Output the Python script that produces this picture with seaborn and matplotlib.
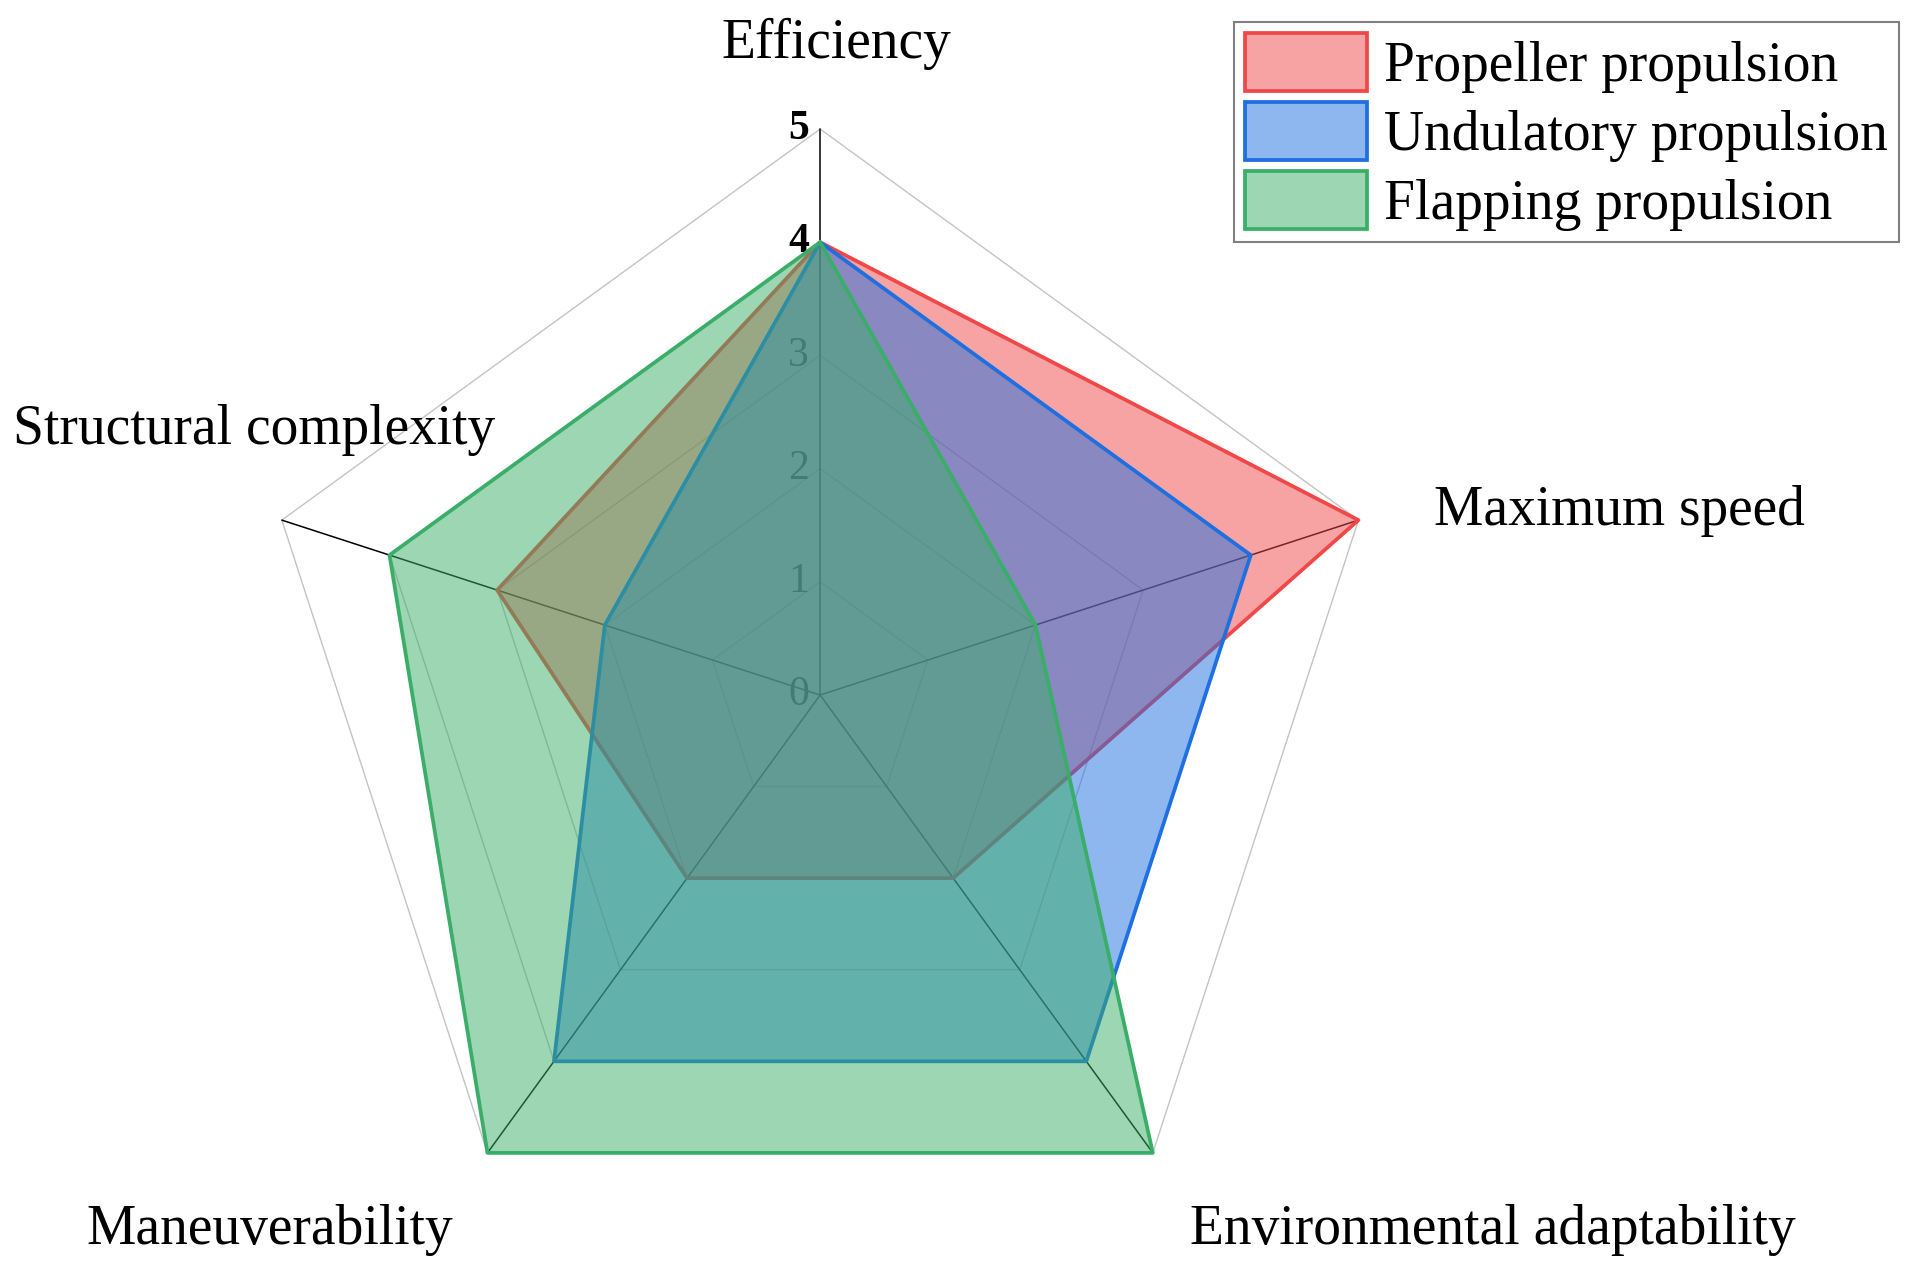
import numpy as np
import matplotlib
matplotlib.use('Agg')
import matplotlib.pyplot as plt
import seaborn as sns
from matplotlib.patches import Patch
from matplotlib.colors import to_rgba

# Scores (scale 0-5)
categories = ['Efficiency', 'Maximum speed', 'Environmental adaptability',
              'Maneuverability', 'Structural complexity']
propeller = [4, 5, 2, 2, 3]
undulatory = [4, 4, 4, 4, 2]
flapping = [4, 2, 5, 5, 4]
series_names = ['Propeller propulsion', 'Undulatory propulsion', 'Flapping propulsion']
levels = [0, 1, 2, 3, 4, 5]

sns.set_theme(style='white')
plt.rcParams['font.family'] = ['Liberation Serif', 'DejaVu Serif']
plt.rcParams['text.color'] = 'black'

colors = ['#F04848', '#1E6FE0', '#3AAE68']

fig = plt.figure(figsize=(19.14, 12.68), dpi=100)
ax = fig.add_axes([0, 0, 1, 1])
ax.set_xlim(-7.245, 9.663)
ax.set_ylim(-5.062, 6.140)
ax.axis('off')

# Efficiency on top, then clockwise
angles = np.deg2rad(90 - 72 * np.arange(len(categories)))


def to_xy(vals):
    r = np.asarray(vals, dtype=float)
    x = r * np.cos(angles)
    y = r * np.sin(angles)
    return np.append(x, x[0]), np.append(y, y[0])


# pentagon grid
for lv in levels[1:]:
    gx, gy = to_xy([lv] * len(categories))
    ax.plot(gx, gy, color='#c4c4c4', lw=1.0, zorder=1)

# spokes
rmax = levels[-1]
for a in angles:
    ax.plot([0, rmax * np.cos(a)], [0, rmax * np.sin(a)], color='black', lw=1.1, zorder=1)

# radial tick labels along the Efficiency axis
for lv in levels:
    ax.text(-0.1, lv, str(lv), ha='right', va='center', fontsize=30, color='black',
            fontweight='bold' if lv >= 4 else 'normal', zorder=1.5)

# filled polygons
for i, (vals, col) in enumerate(zip([propeller, undulatory, flapping], colors)):
    px, py = to_xy(vals)
    ax.fill(px, py, facecolor=col, alpha=0.5, edgecolor='none', zorder=2 + i)
    ax.plot(px, py, color=col, lw=2.7, zorder=2.1 + i)

# axis labels
fig.text(0.437, 0.965, categories[0], ha='center', va='center', fontsize=40)
fig.text(0.749, 0.597, categories[1], ha='left', va='center', fontsize=40)
fig.text(0.780, 0.030, categories[2], ha='center', va='center', fontsize=40)
fig.text(0.141, 0.030, categories[3], ha='center', va='center', fontsize=40)
fig.text(0.133, 0.661, categories[4], ha='center', va='center', fontsize=40)

handles = [Patch(facecolor=to_rgba(c, 0.5), edgecolor=c, lw=2.7, label=n)
           for c, n in zip(colors, series_names)]
leg = ax.legend(handles=handles, loc='upper right', bbox_to_anchor=(0.992, 0.983),
                bbox_transform=fig.transFigure, fontsize=40, frameon=True,
                fancybox=False, edgecolor='#808080', framealpha=1,
                handlelength=2.2, handleheight=1.25, labelspacing=0.16,
                handletextpad=0.3, borderpad=0.2, borderaxespad=0)
leg.get_frame().set_linewidth(1.5)
for t in leg.get_texts():
    t.set_color('black')

fig.savefig('out.png', dpi=100)
